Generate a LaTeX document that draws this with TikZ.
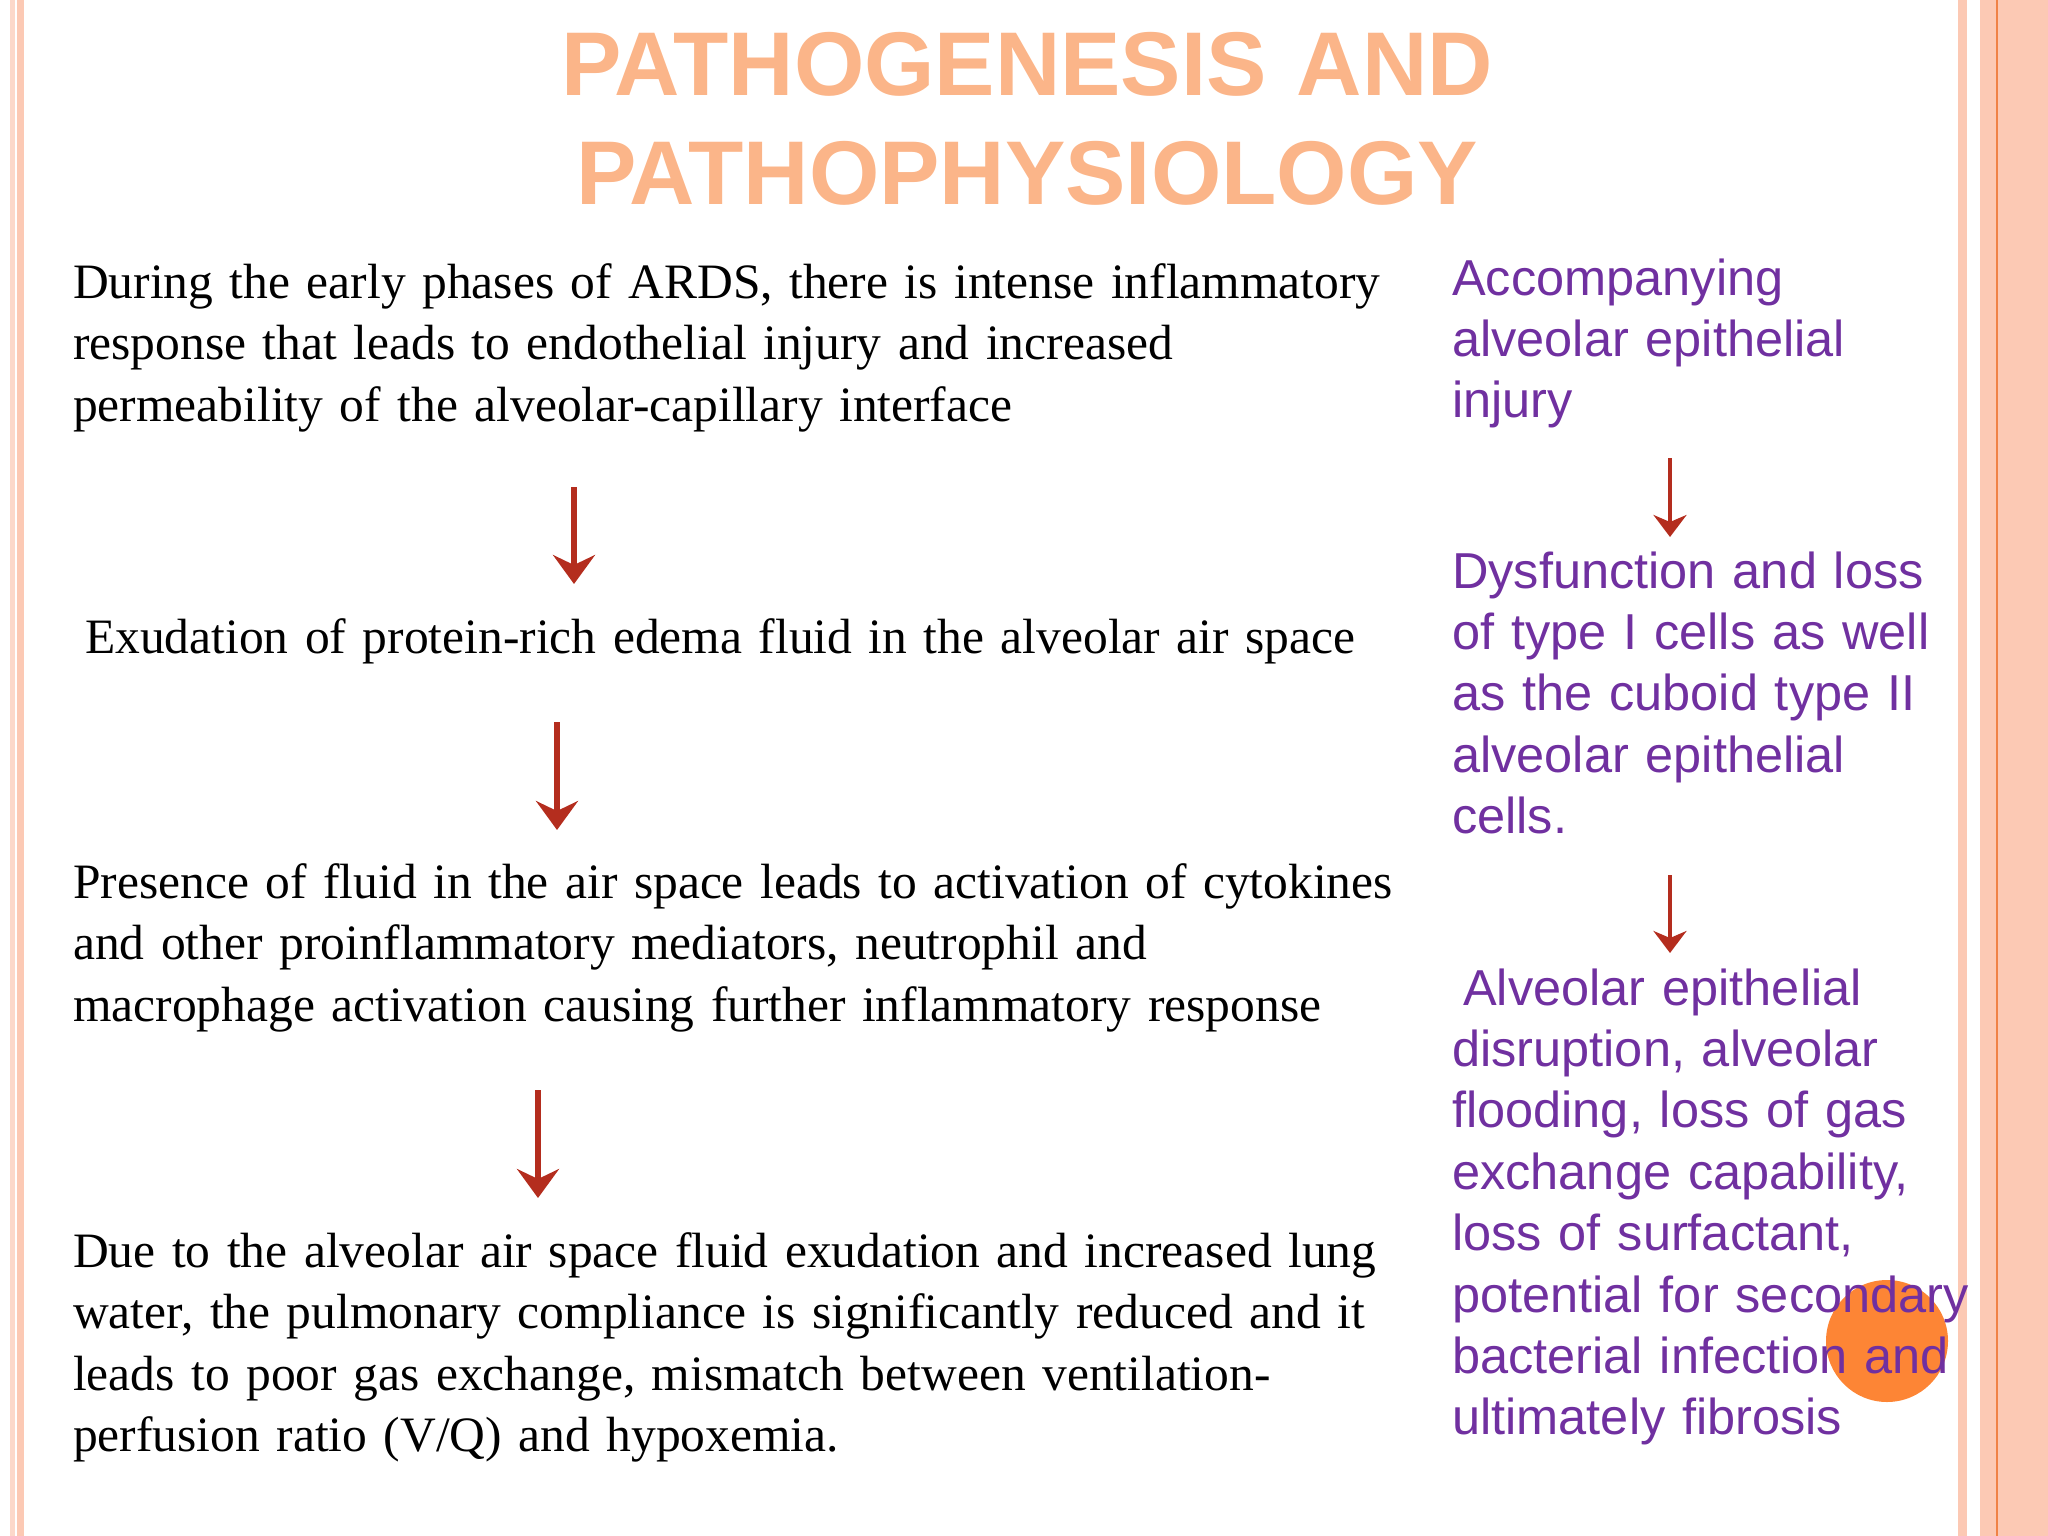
\documentclass[tikz,border=0pt]{standalone}
\usepackage{fontspec}
\setmainfont{Liberation Serif}
\newfontfamily\arialfont{Liberation Sans}
\usetikzlibrary{arrows.meta}
\setlength{\parindent}{0pt}

\definecolor{titleorange}{RGB}{251,181,137}
\definecolor{steppurple}{RGB}{112,48,160}
\definecolor{arrowred}{RGB}{180,45,30}
\definecolor{borderpink}{RGB}{252,201,180}
\definecolor{lightpink}{RGB}{252,216,202}
\definecolor{lineorange}{RGB}{240,130,70}
\definecolor{dotorange}{RGB}{253,133,53}

\tikzset{
    leftstep/.style={anchor=base west, inner sep=0pt, text width=1400pt, align=left,
        font=\fontsize{49.5}{61.5}\selectfont},
    rightstep/.style={anchor=base west, inner sep=0pt, text width=600pt, align=left,
        text=steppurple, font=\arialfont\fontsize{50.5}{61.4}\selectfont},
    bigarrow/.style={draw=arrowred, line width=6pt, -{Stealth[length=29pt,width=42pt,inset=10pt]}},
    smallarrow/.style={draw=arrowred, line width=4.5pt, -{Stealth[length=22pt,width=33pt,inset=7pt]}},
}

\begin{document}
\begin{tikzpicture}[x=1pt,y=-1pt]
    \useasboundingbox (0,0) rectangle (2048,1536);
    
    % page borders
    \fill[lightpink] (10,0) rectangle (15,1536);
    \fill[borderpink] (17,0) rectangle (24,1536);
    \fill[borderpink] (1958,0) rectangle (1967,1536);
    \fill[borderpink] (1980,0) rectangle (2048,1536);
    \fill[lineorange] (1996,0) rectangle (1998,1536);
    \fill[dotorange] (1887,1341) circle[radius=61];
    
    \node[anchor=base, inner sep=0pt, text width=1400pt, align=center, text=titleorange,
        font=\arialfont\bfseries\fontsize{90.5}{109}\selectfont] (title) at (1027,96)
        {PATHOGENESIS AND\\PATHOPHYSIOLOGY};
    
    % left column
    \node[leftstep] (early) at (73,298) {During the early phases of ARDS, there is intense inflammatory\\response that leads to endothelial injury and increased\\permeability of the alveolar-capillary interface};
    \node[leftstep] (exud) at (85,653) {Exudation of protein-rich edema fluid in the alveolar air space};
    \node[leftstep] (fluid) at (73,898) {Presence of fluid in the air space leads to activation of cytokines\\and other proinflammatory mediators, neutrophil and\\macrophage activation causing further inflammatory response};
    \node[leftstep] (comp) at (73,1267) {Due to the alveolar air space fluid exudation and increased lung\\water, the pulmonary compliance is significantly reduced and it\\leads to poor gas exchange, mismatch between ventilation-\\perfusion ratio (V/Q) and hypoxemia.};
    
    % right column
    \node[rightstep] (epi) at (1452,295) {Accompanying\\alveolar epithelial\\injury};
    \node[rightstep] (loss) at (1452,588) {Dysfunction and loss\\of type I cells as well\\as the cuboid type II\\alveolar epithelial\\cells.};
    \node[rightstep] (fib) at (1452,1005) {\hspace*{11pt}Alveolar epithelial\\disruption, alveolar\\flooding, loss of gas\\exchange capability,\\loss of surfactant,\\potential for secondary\\bacterial infection and\\ultimately fibrosis};
    
    % arrows
    \foreach \ax/\ay/\az [count=\i] in {574/487/584, 557/722/830, 538/1090/1198} {
        \coordinate (left\i top) at (\ax,\ay);
        \coordinate (left\i tip) at (\ax,\az);
        \draw[bigarrow] (left\i top) -- (left\i tip);
    }
    \foreach \ay/\az [count=\i] in {458/537, 875/953} {
        \coordinate (right\i top) at (1670,\ay);
        \coordinate (right\i tip) at (1670,\az);
        \draw[smallarrow] (right\i top) -- (right\i tip);
    }
\end{tikzpicture}
\end{document}
